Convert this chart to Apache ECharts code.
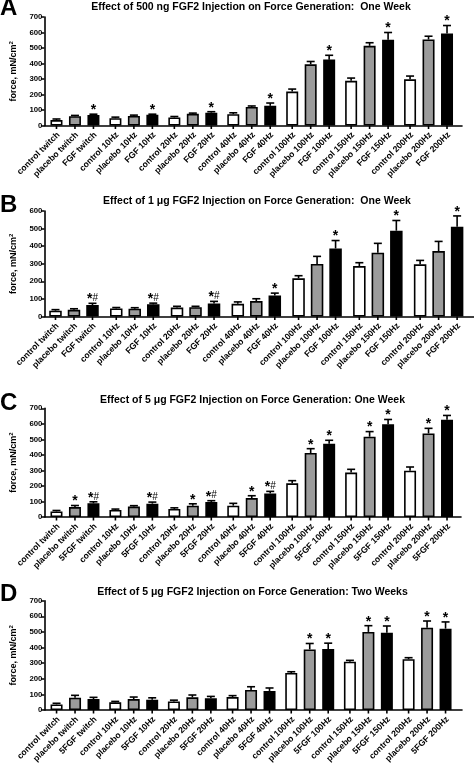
<!DOCTYPE html>
<html>
<head>
<meta charset="utf-8">
<script src="https://cdn.jsdelivr.net/npm/echarts@6/dist/echarts.min.js"></script>
<style>
  html, body { margin: 0; padding: 0; background: #fff; }
  #chart { width: 474px; height: 780px; }
</style>
</head>
<body>
<div id="chart"></div>
<script>
// ---- Data ----
const freqs = ['twitch', '10Hz', '20Hz', '40Hz', '100Hz', '150Hz', '200Hz'];

const titles = [
  'Effect of 500 ng FGF2 Injection on Force Generation:  One Week',
  'Effect of 1 \u03bcg FGF2 Injection on Force Generation:  One Week',
  'Effect of 5 \u03bcg FGF2 Injection on Force Generation: One Week',
  'Effect of 5 \u03bcg FGF2 Injection on Force Generation: Two Weeks'
];
const panelLetters = ['A', 'B', 'C', 'D'];
const groupsAB = ['control', 'placebo', 'FGF'];
const groupsCD = ['control', 'placebo', '5FGF'];

// A: 500 ng, one week
const aControl = [35, 47, 52, 73, 219, 288, 298];
const aControlErr = [7, 7, 6, 9, 16, 18, 21];
const aPlacebo = [60, 62, 75, 120, 395, 514, 555];
const aPlaceboErr = [5, 5, 5, 6, 18, 20, 21];
const aFgf = [68, 69, 83, 127, 425, 553, 593];
const aFgfErr = [5, 4, 6, 18, 28, 47, 52];
const aFgfSig = ['*', '*', '*', '*', '*', '*', '*'];

// B: 1 ug, one week
const bControl = [33, 46, 51, 72, 217, 287, 297];
const bControlErr = [6, 5, 7, 11, 15, 19, 22];
const bPlacebo = [38, 44, 53, 88, 299, 363, 372];
const bPlaceboErr = [6, 6, 5, 13, 43, 53, 55];
const bFgf = [65, 69, 74, 120, 387, 488, 511];
const bFgfErr = [10, 7, 12, 13, 45, 58, 61];
const bFgfSig = ['*#', '*#', '*#', '*', '*', '*', '*'];

// C: 5 ug, one week
const cControl = [36, 45, 52, 73, 217, 286, 298];
const cControlErr = [6, 6, 7, 15, 17, 21, 24];
const cPlacebo = [64, 67, 73, 122, 412, 517, 538];
const cPlaceboErr = [10, 6, 12, 15, 28, 33, 33];
const cPlaceboSig = ['*', '', '*', '*', '*', '*', '*'];
const cFgf = [88, 86, 97, 152, 472, 598, 627];
const cFgfErr = [10, 10, 8, 13, 22, 30, 27];
const cFgfSig = ['*#', '*#', '*#', '*#', '*', '*', '*'];

// D: 5 ug, two weeks
const dControl = [36, 49, 55, 83, 237, 309, 325];
const dControlErr = [7, 6, 8, 9, 8, 9, 10];
const dPlacebo = [79, 70, 81, 128, 388, 500, 527];
const dPlaceboErr = [15, 13, 15, 21, 38, 40, 43];
const dPlaceboSig = ['', '', '', '', '*', '*', '*'];
const dFgf = [70, 66, 75, 122, 390, 495, 521];
const dFgfErr = [11, 12, 12, 19, 38, 43, 43];
const dFgfSig = ['', '', '', '', '*', '*', '*'];

const noSig = ['', '', '', '', '', '', ''];

// ---- Layout per panel ----
const FONT = '"Liberation Sans", Arial, Helvetica, sans-serif';
const panels = [
  { groups: groupsAB, max: 700, top: 17, bottom: 125.5, frameLeft: 39.5, frameRight: 462, barLeft: 45.5, barRight: 458, bw: 12, gap: 0.54,
    titleX: 251, titleY: 1.5, letterY: -4,
    series: [[aControl, aControlErr, noSig], [aPlacebo, aPlaceboErr, noSig], [aFgf, aFgfErr, aFgfSig]] },
  { groups: groupsAB, max: 600, top: 211, bottom: 316.5, frameLeft: 39.5, frameRight: 474, barLeft: 43.6, barRight: 469, bw: 12.5, gap: 0.48,
    titleX: 257, titleY: 196, letterY: 193,
    series: [[bControl, bControlErr, noSig], [bPlacebo, bPlaceboErr, noSig], [bFgf, bFgfErr, bFgfSig]] },
  { groups: groupsCD, max: 700, top: 408.3, bottom: 517, frameLeft: 39.5, frameRight: 461, barLeft: 45.5, barRight: 458, bw: 12, gap: 0.54,
    titleX: 252.5, titleY: 395, letterY: 391,
    series: [[cControl, cControlErr, noSig], [cPlacebo, cPlaceboErr, cPlaceboSig], [cFgf, cFgfErr, cFgfSig]] },
  { groups: groupsCD, max: 700, top: 600.7, bottom: 710, frameLeft: 39.5, frameRight: 462, barLeft: 45.7, barRight: 456.4, bw: 12, gap: 0.54,
    titleX: 252.5, titleY: 586.5, letterY: 582,
    series: [[dControl, dControlErr, noSig], [dPlacebo, dPlaceboErr, dPlaceboSig], [dFgf, dFgfErr, dFgfSig]] }
];

const barColors = ['#ffffff', '#9b9b9b', '#000000'];

// error bars, x ticks, x labels and significance marks for one bar series
function makeRenderer(step, pos, groupName, sigs) {
  return function (params, api) {
    const cat = api.value(0);
    const val = api.value(1);
    const err = api.value(2);
    const base = api.coord([cat, 0]);
    const barTop = api.coord([cat, val]);
    const errTop = api.coord([cat, val + err]);
    const x = base[0] + (pos - 1) * step;
    const cap = 4;
    const lineStyle = { stroke: '#000', lineWidth: 1.6 };
    const children = [
      { type: 'line', shape: { x1: x, y1: barTop[1], x2: x, y2: errTop[1] }, style: lineStyle },
      { type: 'line', shape: { x1: x - cap, y1: errTop[1], x2: x + cap, y2: errTop[1] }, style: lineStyle },
      { type: 'line', shape: { x1: x, y1: base[1], x2: x, y2: base[1] + 3.5 }, style: lineStyle },
      {
        type: 'text', x: x + 2, y: base[1] + 8, rotation: Math.PI / 4,
        style: {
          text: groupName + ' ' + freqs[params.dataIndex],
          font: 'bold 8.6px ' + FONT, fill: '#000',
          align: 'right', verticalAlign: 'middle'
        }
      }
    ];
    const sig = sigs[params.dataIndex];
    if (sig) {
      const txt = sig.replace('*', '{s|*}').replace('#', '{h|#}');
      children.push({
        type: 'text', x: x, y: errTop[1] + 3,
        style: {
          text: txt, align: 'center', verticalAlign: 'bottom', fill: '#000',
          rich: {
            s: { fontSize: 14, fontWeight: 'bold', fontFamily: FONT, fill: '#000' },
            h: { fontSize: 10, fontFamily: FONT, fill: '#000', padding: [0, 0, 2, 0] }
          }
        }
      });
    }
    return { type: 'group', children: children };
  };
}

const grid = [], xAxis = [], yAxis = [], series = [], title = [];

panels.forEach((p, i) => {
  const frameIdx = i * 2;
  const barIdx = i * 2 + 1;
  const height = p.bottom - p.top;

  // frame grid: axis lines, y ticks, labels, name
  grid.push({ left: p.frameLeft, top: p.top, width: p.frameRight - p.frameLeft, height: height });
  xAxis.push({
    gridIndex: frameIdx, type: 'value', min: 0, max: 1,
    axisLine: { show: true, lineStyle: { color: '#000', width: 1.6 } },
    axisTick: { show: false }, axisLabel: { show: false }, splitLine: { show: false }
  });
  yAxis.push({
    gridIndex: frameIdx, type: 'value', min: 0, max: p.max, interval: 100,
    name: '{a|force, mN/cm}{b|2}', nameLocation: 'middle', nameGap: 21,
    nameTextStyle: {
      rich: {
        a: { fontSize: 9, fontWeight: 'bold', fontFamily: FONT, color: '#000', lineHeight: 12 },
        b: { fontSize: 6, fontWeight: 'bold', fontFamily: FONT, color: '#000', verticalAlign: 'top', lineHeight: 12, padding: [0, 0, 4, 0] }
      }
    },
    axisLine: { show: true, lineStyle: { color: '#000', width: 1.6 } },
    axisTick: { show: true, length: 3.5, lineStyle: { color: '#000', width: 1.5 } },
    axisLabel: { fontSize: 7.8, fontWeight: 'bold', fontFamily: FONT, color: '#000', margin: 2 },
    splitLine: { show: false }
  });

  // bar grid: hidden axes matching the frame's value scale
  grid.push({ left: p.barLeft, top: p.top, width: p.barRight - p.barLeft, height: height });
  xAxis.push({ gridIndex: barIdx, type: 'category', data: freqs, show: false });
  yAxis.push({ gridIndex: barIdx, type: 'value', min: 0, max: p.max, show: false });

  const step = p.bw * (1 + p.gap);
  p.series.forEach((s, j) => {
    series.push({
      type: 'bar', xAxisIndex: barIdx, yAxisIndex: barIdx,
      name: p.groups[j], data: s[0],
      barWidth: p.bw, barGap: Math.round(p.gap * 100) + '%',
      itemStyle: { color: barColors[j], borderColor: '#000', borderWidth: 1.6 },
      animation: false, silent: true
    });
  });
  p.series.forEach((s, j) => {
    series.push({
      type: 'custom', xAxisIndex: barIdx, yAxisIndex: barIdx,
      data: s[0].map((v, k) => [k, v, s[1][k]]),
      renderItem: makeRenderer(step, j, p.groups[j], s[2]),
      z: 3, animation: false, silent: true
    });
  });

  title.push({
    text: titles[i], left: p.titleX, top: p.titleY, textAlign: 'center', padding: 0,
    textStyle: { fontSize: 10.5, fontWeight: 'bold', fontFamily: FONT, color: '#000' }
  });
  title.push({
    text: panelLetters[i], left: 0, top: p.letterY, padding: 0,
    textStyle: { fontSize: 24, fontWeight: 'bold', fontFamily: FONT, color: '#000' }
  });
});

const chart = echarts.init(document.getElementById('chart'), null, { renderer: 'canvas' });
chart.setOption({
  animation: false,
  backgroundColor: '#fff',
  title: title,
  grid: grid,
  xAxis: xAxis,
  yAxis: yAxis,
  series: series
});
window.addEventListener('resize', () => chart.resize());
</script>
</body>
</html>
